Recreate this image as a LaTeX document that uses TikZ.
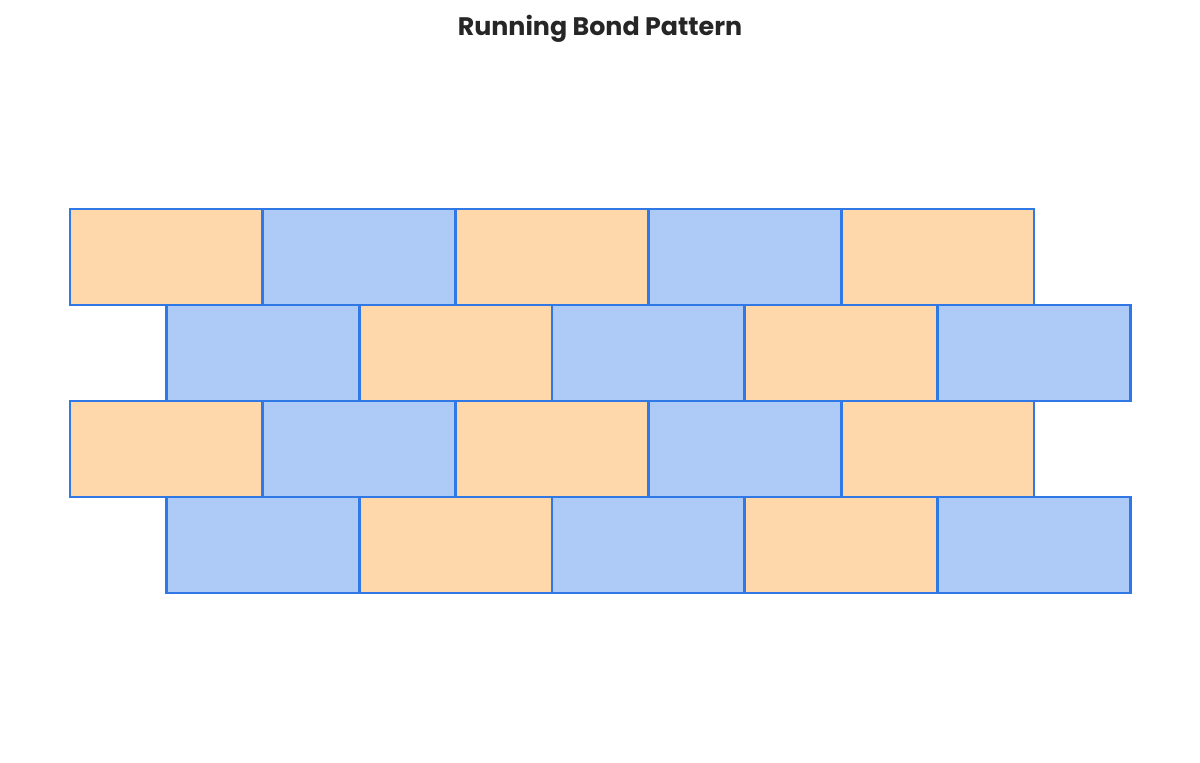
\documentclass[tikz,border=0pt]{standalone}
\usepackage{fontspec}
\setsansfont{Poppins}
\definecolor{brickorange}{HTML}{FED7AA}
\definecolor{brickblue}{HTML}{AECBF8}
\definecolor{brickline}{HTML}{2F78E6}
\tikzset{every picture/.style={line width=0.75pt}}
\tikzset{brick/.style={draw=brickline,line width=2.2pt}}
\begin{document}
\begin{tikzpicture}[x=0.75pt,y=0.75pt,yscale=-1,xscale=1]
    %set diagram size 1200 x 763
    \useasboundingbox (0,0) rectangle (1200,763);
    % Text Node
    \draw (600,29) node [inner sep=0.75pt]  [font=\sffamily\bfseries\fontsize{19}{22}\selectfont,text=black!85]  {Running Bond Pattern};
    %Shape: Bricks, rows 0 and 2
    \foreach \r in {0,2} {
      \foreach \i in {0,...,4} {
        \pgfmathsetmacro{\c}{mod(\i,2)==0 ? "brickorange" : "brickblue"}
        \draw [brick,fill=\c] (70+192.8*\i,209+96*\r) rectangle ++(192.8,96);
      }
    }
    %Shape: Bricks, rows 1 and 3
    \foreach \r in {1,3} {
      \foreach \i in {0,...,4} {
        \pgfmathsetmacro{\c}{mod(\i,2)==0 ? "brickblue" : "brickorange"}
        \draw [brick,fill=\c] (166.4+192.8*\i,209+96*\r) rectangle ++(192.8,96);
      }
    }
\end{tikzpicture}
\end{document}
